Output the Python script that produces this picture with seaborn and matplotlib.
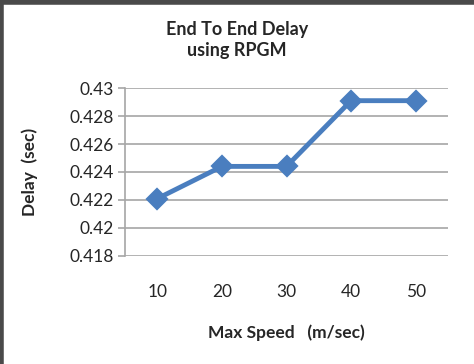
import matplotlib
matplotlib.use("Agg")
import matplotlib.pyplot as plt
import seaborn as sns
import pandas as pd

# values
max_speed = ["10", "20", "30", "40", "50"]
delay_sec = [0.4221, 0.4244, 0.4244, 0.4291, 0.4291]
y_ticks = [0.418, 0.42, 0.422, 0.424, 0.426, 0.428, 0.43]
y_tick_labels = ["0.418", "0.42", "0.422", "0.424", "0.426", "0.428", "0.43"]

sns.set_theme(style="white")
plt.rcParams["font.family"] = ["Lato", "DejaVu Sans"]

df = pd.DataFrame({"speed": max_speed, "delay": delay_sec})

fig = plt.figure(figsize=(4.74, 3.64), dpi=100)
ax = fig.add_axes([0.264, 0.297, 0.681, 0.461])

sns.pointplot(data=df, x="speed", y="delay", color="#4A7EBF", markers="D",
              markersize=9, linewidth=3.5, errorbar=None, ax=ax)

ax.set_ylim(0.418, 0.43)
ax.set_xlim(-0.5, 4.5)
ax.set_yticks(y_ticks)
ax.set_yticklabels(y_tick_labels)
ax.grid(axis="y", color="#A6A6A6", linewidth=1.2)
ax.set_axisbelow(True)
for s in ["top", "right", "bottom"]:
    ax.spines[s].set_visible(False)
ax.spines["left"].set_color("#A6A6A6")
ax.spines["left"].set_linewidth(1.2)
ax.tick_params(axis="y", length=5, color="#A6A6A6", width=1.2, labelsize=12.5, pad=3, left=True)
ax.tick_params(axis="x", length=0, labelsize=12.5, pad=20)

ax.set_xlabel("Max Speed   (m/sec)", fontsize=12.5, fontweight="bold")
ax.set_ylabel("Delay  (sec)", fontsize=12.5, fontweight="bold")
ax.xaxis.set_label_coords(0.5, -0.41)
ax.yaxis.set_label_coords(-0.27, 0.5)
fig.text(0.5, 0.89, "End To End Delay\nusing RPGM", ha="center", va="center",
         fontsize=13, fontweight="bold", linespacing=1.3)

# frame on left and top only
fig.add_artist(plt.Line2D([0.003, 0.003], [0, 1], transform=fig.transFigure,
                          color="#4A4A4A", linewidth=4))
fig.add_artist(plt.Line2D([0, 1], [0.995, 0.995], transform=fig.transFigure,
                          color="#4A4A4A", linewidth=4))

fig.savefig("out.png", dpi=100)
